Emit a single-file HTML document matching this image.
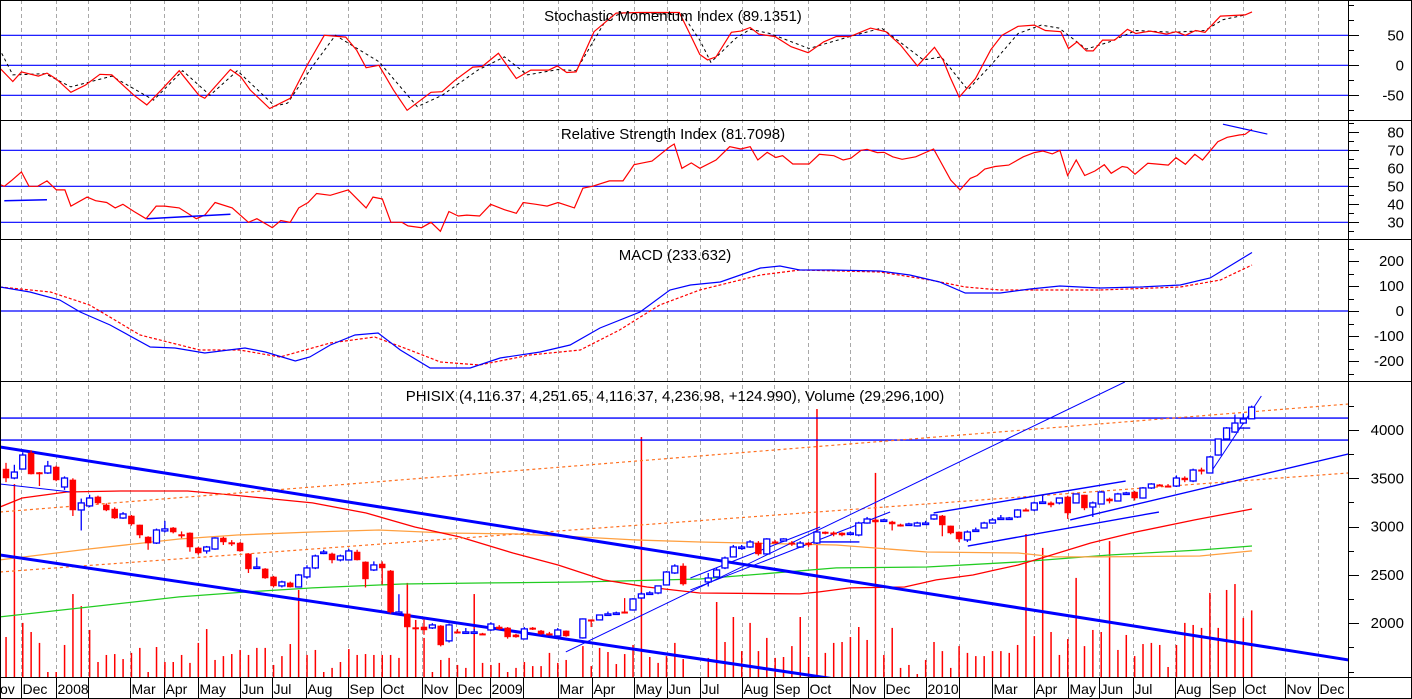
<!DOCTYPE html>
<html><head><meta charset="utf-8"><title>PHISIX weekly chart</title>
<style>
html,body{margin:0;padding:0;background:#fff;}
svg{display:block;font-family:"Liberation Sans",Arial,sans-serif;}
</style></head>
<body>
<svg id="chart" width="1412" height="699" viewBox="0 0 1412 699" xmlns="http://www.w3.org/2000/svg">
<defs>
<clipPath id="cStoch"><rect x="0" y="1" width="1348" height="119"/></clipPath>
<clipPath id="cRsi"><rect x="0" y="121" width="1348" height="118"/></clipPath>
<clipPath id="cMacd"><rect x="0" y="240" width="1348" height="141"/></clipPath>
<clipPath id="cPrice"><rect x="0" y="382" width="1348" height="295"/></clipPath>
</defs>
<rect x="0" y="0" width="1412" height="699" fill="#fff"/>
<g id="grid"></g>
<g id="stoch" clip-path="url(#cStoch)"></g>
<g id="rsi" clip-path="url(#cRsi)"></g>
<g id="macd" clip-path="url(#cMacd)"></g>
<g id="price" clip-path="url(#cPrice)"></g>
<g id="axes"></g>
<text x="673" y="21" font-size="15" text-anchor="middle">Stochastic Momentum Index (89.1351)</text>
<text x="673" y="139" font-size="15" text-anchor="middle">Relative Strength Index (81.7098)</text>
<text x="675" y="260" font-size="15" text-anchor="middle">MACD (233.632)</text>
<text x="675" y="401" font-size="15" text-anchor="middle">PHISIX (4,116.37, 4,251.65, 4,116.37, 4,236.98, +124.990), Volume (29,296,100)</text>
</svg>
<script>
// ---- data ----
function range(a,b){const r=[];for(let i=a;i<=b;i++)r.push(i);return r;}
const candleWeeks=range(0,67).concat(range(69,81)).concat(range(84,149));
const opens=[3596,3503,3596,3762,3560,3555,3617,3410,3483,3172,3214,3307,3224,3182,3089,3110,3017,2892,2830,2955,2986,2918,2934,2779,2748,2768,2882,2835,2830,2717,2580,2562,2479,2386,2417,2375,2479,2572,2735,2717,2655,2655,2737,2634,2551,2613,2541,2112,2096,1955,1961,1951,1972,1817,1912,1908,1908,1892,1930,1961,1951,1879,1837,1951,1920,1892,1868,1920,1848,2036,2034,2094,2104,2118,2137,2261,2311,2313,2396,2520,2592,2427,2479,2572,2686,2787,2789,2830,2717,2843,2851,2832,2789,2830,2830,2944,2936,2934,2932,2913,3037,3069,3067,3048,3019,3025,3007,3035,3079,3110,3007,2944,2862,2963,2986,3037,3087,3087,3100,3174,3172,3253,3245,3245,3307,3245,3327,3203,3234,3286,3265,3346,3358,3296,3400,3433,3422,3420,3503,3472,3588,3555,3741,3907,3979,4072,4116];
const closes=[3503,3565,3741,3545,3555,3627,3483,3503,3172,3245,3296,3245,3172,3089,3131,3027,2913,2830,2965,2976,2944,2913,2789,2727,2789,2882,2841,2830,2748,2562,2582,2468,2386,2427,2375,2499,2572,2696,2737,2655,2696,2748,2655,2458,2603,2572,2116,2116,1961,1951,1930,1982,1775,1982,1910,1910,1910,1889,1992,1941,1858,1858,1941,1941,1889,1889,1930,1868,2044,2034,2085,2096,2106,2116,2251,2303,2313,2386,2530,2592,2406,2468,2551,2675,2789,2789,2841,2717,2872,2841,2872,2830,2830,2810,2944,2934,2934,2913,2934,3037,3079,3048,3069,3027,3017,3027,3037,3037,3120,3017,2934,2872,2944,2965,3037,3069,3089,3089,3172,3172,3245,3255,3224,3296,3141,3338,3193,3245,3358,3265,3338,3348,3296,3400,3441,3431,3420,3503,3483,3586,3586,3721,3907,4021,4072,4114,4237];
const highs=[3660,3640,3770,3790,3565,3680,3630,3520,3500,3290,3330,3320,3240,3200,3150,3120,3020,2900,2980,3060,2995,2950,2940,2790,2800,2890,2895,2860,2840,2725,2680,2570,2490,2440,2430,2510,2600,2710,2760,2730,2710,2770,2760,2640,2640,2640,2550,2300,2130,2000,2040,2000,1980,1995,1940,1950,1940,1900,2010,1980,1960,1890,1960,1960,1930,1910,1950,1925,2050,2040,2090,2120,2120,2260,2260,2320,2330,2390,2540,2610,2620,2520,2570,2690,2810,2810,2860,2850,2880,2860,2880,2850,2850,2840,2950,2950,2950,2940,2950,3050,3100,3080,3080,3060,3030,3040,3050,3060,3130,3120,3010,2950,2960,2990,3050,3090,3120,3100,3180,3190,3260,3320,3260,3300,3320,3340,3330,3260,3370,3300,3350,3360,3370,3410,3450,3440,3440,3530,3520,3600,3610,3730,3910,4030,4160,4170,4252];
const lows=[3460,3490,3590,3540,3420,3545,3470,3380,3110,2960,3200,3230,3160,3080,3080,3010,2880,2760,2820,2940,2930,2880,2740,2710,2720,2760,2810,2800,2740,2520,2575,2460,2370,2370,2370,2370,2460,2560,2715,2620,2640,2650,2650,2370,2540,2400,2100,2100,1950,1900,1880,1940,1760,1800,1900,1900,1900,1880,1920,1930,1840,1850,1830,1930,1880,1880,1860,1860,1840,1960,2030,2085,2090,2100,2130,2250,2300,2300,2390,2510,2390,2380,2470,2560,2680,2760,2780,2700,2710,2830,2840,2800,2780,2790,2820,2920,2900,2900,2920,2900,3030,3040,3050,2960,3000,3010,3000,3020,3070,2900,2920,2840,2840,2950,2980,3030,3080,3070,3090,3160,3160,3240,3200,3230,3080,3240,3170,3100,3230,3240,3260,3330,3270,3290,3390,3420,3410,3410,3460,3460,3540,3550,3735,3900,3970,4060,4116];
const volumes=[17.6,84.9,23.8,19.8,15,2.2,2.2,14.1,36.5,31.2,20.7,6.6,9.7,10.1,7.9,10.6,12.8,2.2,13.2,6.6,6.6,9.7,6.2,15,21.1,7.5,9.2,10.1,11.9,9.7,12.8,12.8,5.3,9.2,14.5,38.3,9.7,11.9,2.2,4,6.6,12.3,9.7,10.1,9.7,9.7,9.7,8.4,41.4,25.1,17.2,2.2,7.5,8.4,5.3,4,36.5,6.2,5.3,6.2,2.2,4,6.6,4.8,4.8,10.6,6.2,7.5,13.6,4.8,12.8,11,5.7,10.1,14.1,105.6,8.8,6.2,9.2,15,7.9,8.4,33,15.4,26.4,11.4,23.8,11.4,17.2,8.4,8.8,13.6,26.4,8.8,117.9,10.6,15,15.4,17.6,22,16.3,89.8,9.7,21.6,4,5.3,1.3,7.5,15.4,11.4,4,13.6,10.6,9.2,9.2,11.4,11.4,10.6,14.1,62.9,18,56.8,19.8,9.7,16.7,43.6,13.6,20.7,19.8,59.8,11.9,18.5,9.2,14.5,15,14.1,4.4,14.1,23.8,22.9,21.6,37,21.6,38.3,40.9,26,29.3];

const stochKWeeks=[-0.7,0.8,1.8,3.8,4.8,5.9,7.6,9.3,11.0,12.4,15.0,16.5,18.2,20.3,22.6,23.3,26.3,27.5,28.6,30.9,33.3,35.4,37.3,39.8,41.1,42.2,43.7,45.4,47.0,49.8,51.1,52.6,54.7,55.8,57.7,59.8,61.5,63.6,64.6,65.7,66.8,68.9,71.5,74.1,78.9,79.9,81.3,82.2,83.2,85.0,86.1,87.2,88.2,90.1,92.0,94.0,95.8,97.3,98.9,101.3,103.1,104.8,106.8,108.8,109.8,110.6,111.7,113.6,115.4,116.7,118.6,120.5,121.8,123.6,124.5,125.5,126.6,127.4,128.5,129.9,131.4,132.4,134.1,136.0,137.1,138.2,139.4,140.5,142.3,145.2,146.0];
const stochK=[-5,-27,-11,-18,-13,-23,-45,-33,-15,-16,-50,-66,-41,-9,-50,-55,-7,-19,-41,-72,-55,3,50,47,25,-4,0,-41,-75,-45,-44,-25,-3,-2,20,-22,-8,-8,-1,-12,-11,56,87,88,88,59,18,9,14,55,57,63,52,48,31,21,39,48,48,62,56,34,-1,30,9,-19,-53,-22,26,50,65,67,58,56,28,39,24,24,42,42,60,53,57,52,56,50,58,55,82,84,89];
const stochDWeeks=[-0.5,0.8,4.6,7.6,12.4,17.3,20.7,23.9,27.1,31.5,33.0,35.9,38.6,43.7,48.2,51.1,55.3,58.4,61.1,64.7,66.8,70.4,72.5,79.3,81.3,82.6,85.5,87.2,89.5,94.1,98.9,102.6,107.5,109.6,112.7,115.4,118.6,121.3,123.4,126.6,129.3,132.4,136.8,140.5,142.6,145.2];
const stochD=[20,-16,-14,-36,-18,-58,-9,-50,-9,-68,-63,-2,50,6,-69,-50,-8,14,-16,-7,-9,78,88,84,42,5,45,60,53,28,48,62,9,14,-41,0,53,67,62,27,39,58,55,58,76,84];

const rsiWeeks=[-0.7,-0.2,0.6,1.8,2.7,3.7,4.8,5.9,6.9,7.6,9.5,10.5,11.8,12.8,13.7,15.0,16.4,17.6,18.6,20.3,22.3,23.3,24.5,26.5,28.4,29.4,31.2,32.2,33.3,34.3,35.4,36.4,38.0,40.1,42.2,43.0,44.1,45.1,46.4,47.1,48.7,49.8,50.9,51.9,53.0,54.0,55.5,56.8,58.4,59.8,60.6,62.1,63.4,64.7,66.6,67.6,68.7,70.7,72.3,73.6,74.6,75.7,77.8,78.3,79.2,80.3,81.3,83.2,84.8,86.1,87.2,88.1,89.2,90.2,91.0,92.2,94.1,95.3,97.0,98.1,99.0,100.2,100.9,102.1,102.9,103.9,105.0,106.6,108.7,110.7,111.8,113.0,113.8,114.7,115.9,117.5,119.2,120.5,121.5,122.6,123.5,124.4,125.4,126.4,127.6,128.7,129.5,130.8,131.4,132.3,133.8,134.8,136.2,137.1,138.2,139.3,140.2,142.0,143.1,144.5,145.2,146.0];
const rsiValues=[51,50,53,58,50,50,53,48,48,39,44,42,41,38,40,36,32,39,39,38,32,34,41,38,30,32,27,31,30,38,41,46,45,48,38,44,43,30,30,28,27,30,25,36,33.5,34,33.5,40,37,35,41,40,39,41,38,49,50,53,53,62,63,64,72,73.5,60,63,60,64.6,72,70.7,72,64.6,68.9,66,67,62.4,62.4,67.8,67,64.6,65.6,70,70.5,68.7,68.9,66.4,65,66.4,70.7,53.5,48,54.4,56,59.6,61,61.8,66.4,68.7,69.6,68,70,56,64.6,56,58.5,62,57.2,61,60.5,56.7,62.8,62.4,61.8,65.9,62.2,67.8,64.6,74.8,77.2,78.5,78.9,81.7];

const macdWeeks=[-0.7,2.8,6.3,8.7,12.2,16.9,19.8,23.3,28.0,30.4,33.9,35.6,38.0,40.9,43.6,46.2,49.7,54.4,57.9,62.6,66.1,69.6,74.3,77.8,80.2,83.7,88.4,90.7,93.0,96.6,102.4,105.9,109.4,112.4,116.5,120.0,123.5,128.2,132.9,137.6,141.1,146.0];
const macdValues=[96,76,44,-4,-56,-144,-148,-168,-148,-164,-200,-184,-136,-96,-88,-156,-228,-228,-188,-164,-136,-68,-4,84,104,116,172,180,164,164,160,144,116,72,72,88,100,92,96,104,132,234];
const signalWeeks=[-0.7,5.2,9.8,15.7,22.7,27.4,32.1,38.0,43.2,47.3,50.9,55.5,61.4,67.3,71.9,76.6,81.3,88.4,93.0,102.4,108.3,112.4,116.5,128.2,137.6,142.3,146.0];
const signalValues=[96,76,24,-96,-156,-156,-184,-128,-104,-156,-204,-216,-176,-156,-76,24,84,144,164,156,124,96,84,84,96,124,184];

const maRedWeeks=[-0.7,1.9,7.1,13.4,21.3,26.5,35.9,42.2,47.9,53.2,59.4,64.7,70.0,75.1,81.3,93.0,95.2,98.9,105.3,109.0,113.3,115.9,118.6,121.8,127.1,132.4,139.3,146.0];
const maRed=[3203,3296,3358,3369,3369,3327,3245,3141,2996,2892,2727,2603,2448,2375,2313,2303,2323,2365,2375,2448,2499,2551,2603,2686,2830,2944,3069,3182];
const maOrangeWeeks=[-0.7,9.7,20.3,27.1,35.9,43.7,51.6,59.4,67.3,73.6,81.3,97.3,107.9,118.6,122.9,128.2,139.9,146.0];
const maOrange=[2655,2768,2872,2913,2944,2965,2934,2924,2892,2862,2841,2810,2737,2727,2686,2686,2696,2748];
const maGreenWeeks=[-0.7,9.7,20.3,28.1,35.9,46.4,56.8,67.3,81.3,97.3,107.9,118.6,129.3,139.9,146.0];
const maGreen=[2065,2168,2272,2323,2365,2406,2417,2427,2458,2572,2582,2634,2706,2758,2799];

const stochTicks=[50,0,-50];
const rsiTicks=[80,70,60,50,40,30];
const macdTicks=[200,100,0,-100,-200];
const priceTicks=[4000,3500,3000,2500,2000];
const monthLabels=["ov","Dec","2008","","Mar","Apr","May","Jun","Jul","Aug","Sep","Oct","Nov","Dec","2009","","Mar","Apr","May","Jun","Jul","Aug","Sep","Oct","Nov","Dec","2010","","Mar","Apr","May","Jun","Jul","Aug","Sep","Oct","Nov","Dec"];
const monthBreakWeeks=[-1.5,1.8,5.9,9.6,14.5,18.5,22.5,27.4,31.2,35.2,40.1,44.0,48.7,52.7,56.7,60.6,64.7,68.7,73.6,77.5,81.3,86.2,90.0,94.0,98.9,102.9,107.8,111.7,115.5,120.5,124.4,128.1,132.1,137.0,141.1,145.0,149.9,153.7];

// ---- scales ----
const NS="http://www.w3.org/2000/svg";
const X0=6, STEP=8.534, CSTEP=8.36;
function xw(w){return X0+w*STEP;}
function xCandle(n){return X0+n*CSTEP;}
function yStoch(v){return 65.3-0.6*v;}
function yRsi(v){return 186.3-1.8*(v-50);}
function yMacd(v){return 311-0.25*v;}
function yPrice(v){return 430-(v-4000)*0.0966;}
function yVol(v){return 677-v/0.44;}
function mk(tag,attrs,parent){const e=document.createElementNS(NS,tag);for(const k in attrs)e.setAttribute(k,attrs[k]);parent.appendChild(e);return e;}
const G=id=>document.getElementById(id);

const grid=G('grid'), axes=G('axes');
monthBreakWeeks.forEach((w,i)=>{
  const x=Math.round(xw(w))+0.5;
  if(x>2&&x<1346){
    const l=mk('line',{x1:x,y1:0,x2:x,y2:677,stroke:'#a8a8a8','stroke-dasharray':'4,3','stroke-width':1},grid);
    
    
    const s=mk('line',{x1:x,y1:677,x2:x,y2:699,stroke:'#000','stroke-width':1},axes);
    
    
  }
  if(monthLabels[i]){
    const t=mk('text',{x:Math.max(0,x+1),y:694,'font-size':14},axes);
    t.textContent=monthLabels[i];
    
    
  }
});

function hline(parent,y,color,w,name){
  const l=mk('line',{x1:0,y1:y,x2:1348,y2:y,stroke:color,'stroke-width':w},parent);
  
  
}
function poly(parent,ws,vs,ys,color,width,dash,name){
  const pts=ws.map((w,i)=>xw(w).toFixed(1)+','+ys(vs[i]).toFixed(1)).join(' ');
  const p=mk('polyline',{points:pts,fill:'none',stroke:color,'stroke-width':width},parent);
  if(dash)p.setAttribute('stroke-dasharray',dash);
  
  
}
function seg(parent,w1,v1,w2,v2,ys,color,width,dash,name){
  const l=mk('line',{x1:xw(w1),y1:ys(v1),x2:xw(w2),y2:ys(v2),stroke:color,'stroke-width':width},parent);
  if(dash)l.setAttribute('stroke-dasharray',dash);
  
  
}

// stochastic
const st=G('stoch');
stochTicks.forEach(v=>hline(st,yStoch(v),'#0000ff',1.2,'stoch-level-line'));
poly(st,stochDWeeks,stochD,yStoch,'#000',1,'3,3','stoch-signal-line');
poly(st,stochKWeeks,stochK,yStoch,'#ff0000',1.2,null,'stoch-k-line');

// rsi
const rs=G('rsi');
[70,50,30].forEach(v=>hline(rs,yRsi(v),'#0000ff',1.2,'rsi-level-line'));
poly(rs,rsiWeeks,rsiValues,yRsi,'#ff0000',1.2,null,'rsi-line');
seg(rs,-0.2,42,4.8,42.5,yRsi,'#0000ff',1.5,null,'rsi-trendline');
seg(rs,16.5,32,26.3,34.5,yRsi,'#0000ff',1.5,null,'rsi-trendline');
seg(rs,142.6,84.5,147.8,79,yRsi,'#0000ff',1.2,null,'rsi-trendline');

// macd
const mc=G('macd');
hline(mc,yMacd(0),'#0000ff',1.2,'macd-zero-line');
poly(mc,signalWeeks,signalValues,yMacd,'#ff0000',1.2,'3,2','macd-signal-line');
poly(mc,macdWeeks,macdValues,yMacd,'#0000ff',1.2,null,'macd-line');

// price
const pr=G('price');
volumes.forEach((v,i)=>{
  const x=xCandle(candleWeeks[i]);
  const r=mk('rect',{x:x-0.7,y:yVol(v),width:1.5,height:677-yVol(v),fill:'#ff0000'},pr);
  
  
});
hline(pr,yPrice(4124),'#0000ff',1.4,'resistance-line');
hline(pr,yPrice(3896),'#0000ff',1.4,'support-line');
poly(pr,maGreenWeeks,maGreen,yPrice,'#22cc22',1.3,null,'ma-green');
poly(pr,maOrangeWeeks,maOrange,yPrice,'#ffa040',1.3,null,'ma-orange');
poly(pr,maRedWeeks,maRed,yPrice,'#ff0000',1.3,null,'ma-red');
seg(pr,-0.7,3151,157.3,4269,yPrice,'#ff7020',1.2,'3,3','dashed-trendline-upper');
seg(pr,-0.7,2530,157.3,3555,yPrice,'#ff7020',1.2,'3,3','dashed-trendline-lower');
seg(pr,-0.7,3824,157.3,1620,yPrice,'#0000ff',3,null,'channel-upper-thick');
seg(pr,-0.7,2706,97,1424,yPrice,'#0000ff',3,null,'channel-lower-thick');
seg(pr,-0.7,3441,7.6,3358,yPrice,'#0000ff',1,null,'thin-trendline');
seg(pr,65.6,1702,131.1,4497,yPrice,'#0000ff',1,null,'thin-trendline');
seg(pr,80.2,2344,103.6,3151,yPrice,'#0000ff',1,null,'thin-trendline');
seg(pr,80.2,2468,95.4,2996,yPrice,'#0000ff',1,null,'thin-trendline');
seg(pr,95.2,2841,100.0,2841,yPrice,'#0000ff',1.3,null,'thin-trendline');
seg(pr,112.7,2799,135.1,3151,yPrice,'#0000ff',1.4,null,'channel-trendline');
seg(pr,108.7,3141,131.2,3472,yPrice,'#0000ff',1.4,null,'channel-trendline');
seg(pr,124.7,3069,157.3,3752,yPrice,'#0000ff',1.4,null,'long-trendline');
seg(pr,141.2,3565,147.1,4352,yPrice,'#0000ff',1,null,'steep-trendline');
seg(pr,143.5,4020,145.8,4020,yPrice,'#0000ff',1.3,null,'thin-trendline');
opens.forEach((o,i)=>{
  const c=closes[i], x=xCandle(candleWeeks[i]), up=c>=o, col=up?'#0000ff':'#ff0000';
  const w=mk('line',{x1:x,y1:yPrice(highs[i]),x2:x,y2:yPrice(lows[i]),stroke:col,'stroke-width':1.3},pr);
  
  
  const top=yPrice(Math.max(o,c)), bot=yPrice(Math.min(o,c));
  const h=Math.max(1.5,bot-top);
  const b=mk('rect',{x:x-3,y:top,width:6,height:h,fill:up?'#fff':'#ff0000',stroke:col,'stroke-width':up?1.3:0.5},pr);
  
  
});

// borders and right axes
[[0,0.5,1412,0.5],[0,120.5,1412,120.5],[0,239.5,1412,239.5],[0,381.5,1412,381.5],[0,677.5,1412,677.5],[0,698.5,1412,698.5],[1348.5,0,1348.5,699],[0.5,0,0.5,699],[1411.5,0,1411.5,699]].forEach(a=>{
  const l=mk('line',{x1:a[0],y1:a[1],x2:a[2],y2:a[3],stroke:'#000','stroke-width':1},axes);
  
  
});
function axis(ticks,ys,minorStep,lo,hi,top,bottom,name){
  for(let v=lo;v<=hi;v+=minorStep){
    const y=Math.round(ys(v))+0.5; if(y<top||y>bottom)continue;
    const major=ticks.indexOf(v)>=0;
    const l=mk('line',{x1:1348,y1:y,x2:major?1359:1354,y2:y,stroke:'#000','stroke-width':1},axes);
    
    
  }
  ticks.forEach(v=>{
    const t=mk('text',{x:1404,y:ys(v)+5,'font-size':15,'text-anchor':'end'},axes);
    t.textContent=String(v);
    
    
  });
}
axis(stochTicks,yStoch,25,-100,100,2,119,'stoch-axis');
axis(rsiTicks,yRsi,5,20,90,122,238,'rsi-axis');
axis(macdTicks,yMacd,50,-300,300,241,380,'macd-axis');
axis(priceTicks,yPrice,250,1500,4500,383,676,'price-axis');
</script>
</body></html>
